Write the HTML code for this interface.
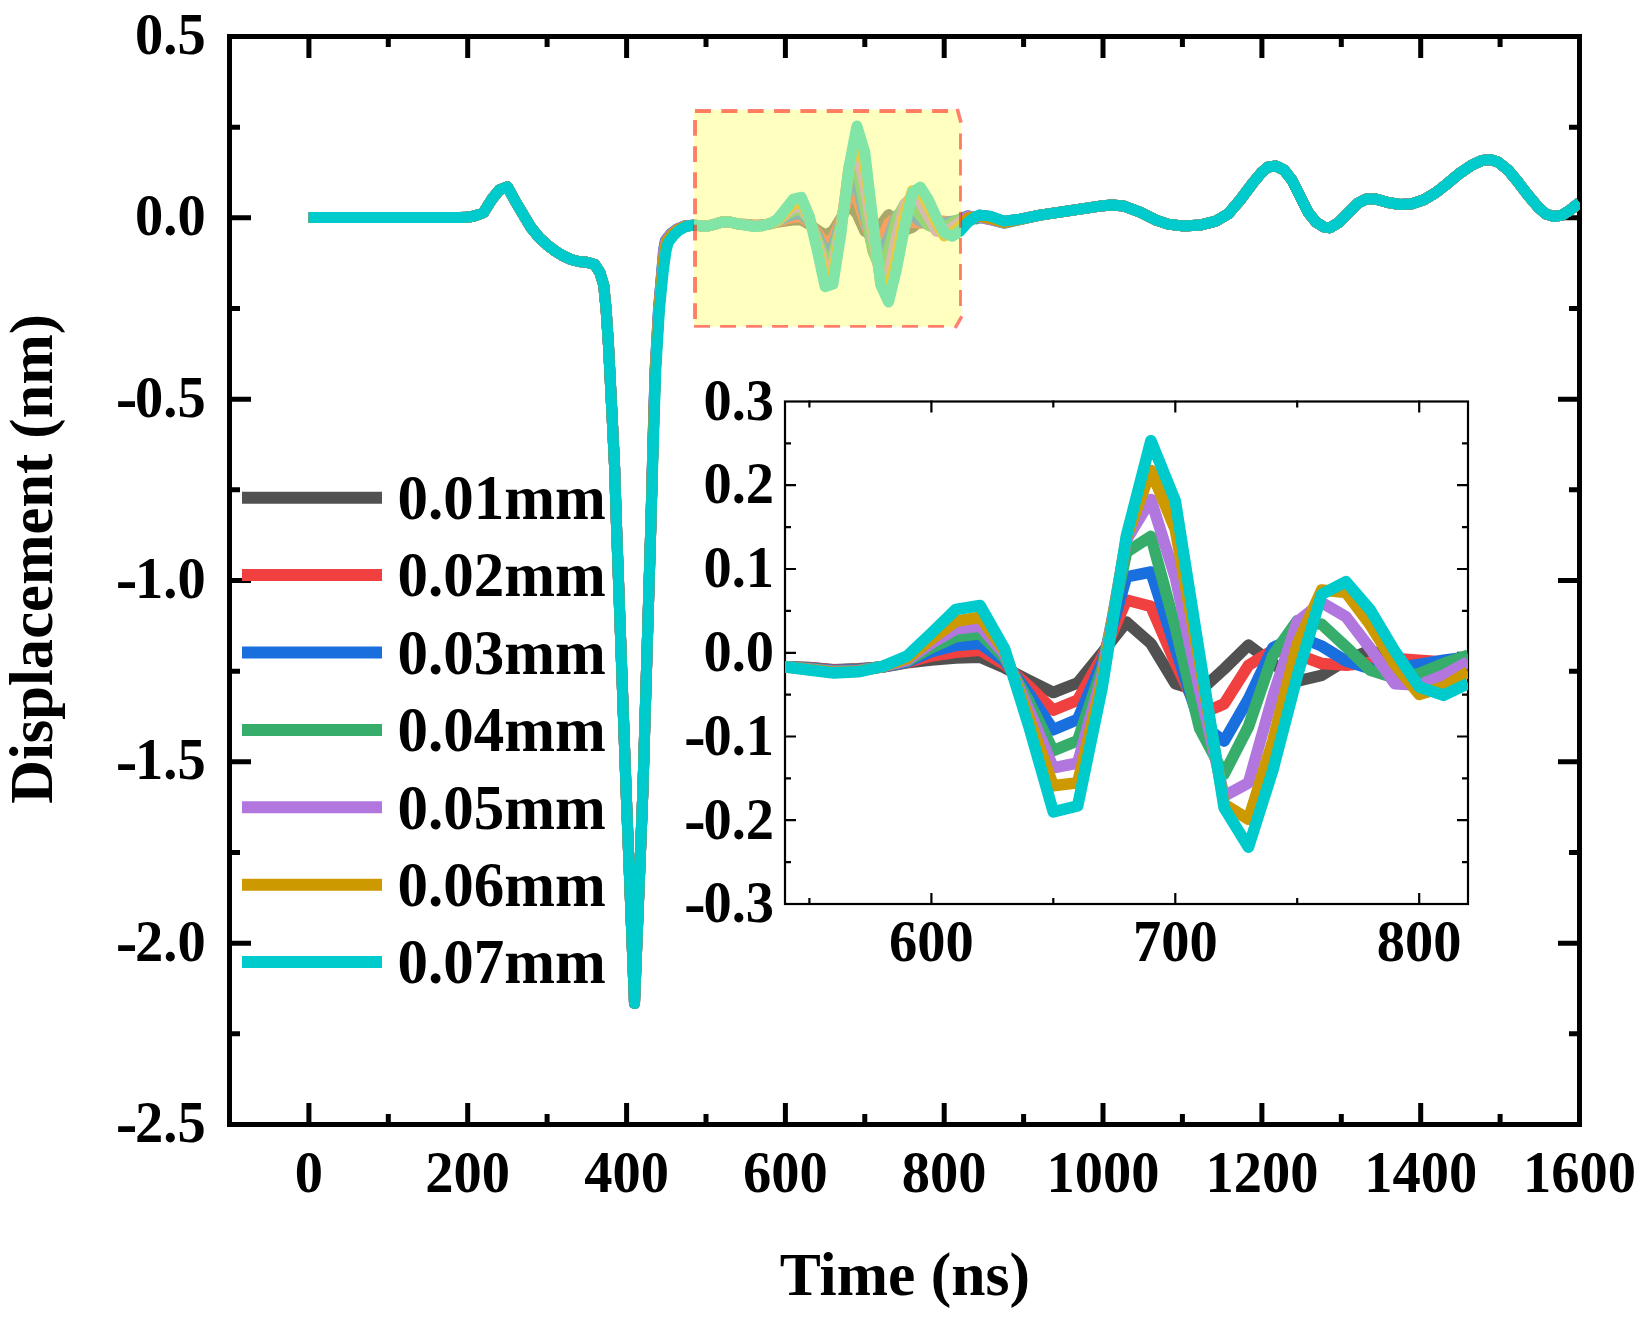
<!DOCTYPE html><html><head><meta charset="utf-8"><title>Displacement vs Time</title>
<style>html,body{margin:0;padding:0;background:#fff}svg{display:block}text{font-family:"Liberation Serif",serif;font-weight:bold;fill:#000}</style></head><body>
<svg width="1648" height="1318" viewBox="0 0 1648 1318">
<rect width="1648" height="1318" fill="#fff"/>
<defs><clipPath id="cm"><rect x="229.5" y="36.5" width="1350" height="1088"/></clipPath><clipPath id="ci"><rect x="785.0" y="401.5" width="683.0" height="502.5"/></clipPath></defs>
<path d="M308.9,34 v24 M308.9,1127 v-24 M388.3,34 v13 M388.3,1127 v-13 M467.7,34 v24 M467.7,1127 v-24 M547.1,34 v13 M547.1,1127 v-13 M626.6,34 v24 M626.6,1127 v-24 M706.0,34 v13 M706.0,1127 v-13 M785.4,34 v24 M785.4,1127 v-24 M864.8,34 v13 M864.8,1127 v-13 M944.2,34 v24 M944.2,1127 v-24 M1023.6,34 v13 M1023.6,1127 v-13 M1103.0,34 v24 M1103.0,1127 v-24 M1182.4,34 v13 M1182.4,1127 v-13 M1261.9,34 v24 M1261.9,1127 v-24 M1341.3,34 v13 M1341.3,1127 v-13 M1420.7,34 v24 M1420.7,1127 v-24 M1500.1,34 v13 M1500.1,1127 v-13 M1579.5,34 v24 M1579.5,1127 v-24 M227,127.2 h13 M1582,127.2 h-13 M227,217.8 h24 M1582,217.8 h-24 M227,308.5 h13 M1582,308.5 h-13 M227,399.2 h24 M1582,399.2 h-24 M227,489.8 h13 M1582,489.8 h-13 M227,580.5 h24 M1582,580.5 h-24 M227,671.2 h13 M1582,671.2 h-13 M227,761.8 h24 M1582,761.8 h-24 M227,852.5 h13 M1582,852.5 h-13 M227,943.2 h24 M1582,943.2 h-24 M227,1033.8 h13 M1582,1033.8 h-13" stroke="#000" stroke-width="5" fill="none"/>
<rect x="229.5" y="36.5" width="1350" height="1088" fill="none" stroke="#000" stroke-width="5"/>
<g clip-path="url(#cm)" fill="none" stroke-width="11" stroke-linejoin="round" stroke-linecap="butt">
<path d="M308.5,217.5 L459.7,217.5 L467.6,217.3 L475.6,215.6 L483.5,212.7 L491.5,199.8 L499.4,189.9 L507.4,186.8 L515.3,201.2 L523.3,214.7 L531.2,227.8 L539.1,237.5 L547.1,244.8 L555.0,250.8 L563.0,255.8 L570.9,259.5 L578.8,261.5 L586.8,262.2 L594.7,264.6 L600.0,272.8 L603.7,285.0 L606.1,309.2 L608.5,345.6 L612.2,418.4 L614.6,467.0 L616.3,520.0 L626.2,793.0 L634.5,1003.5 L642.8,793.0 L651.0,520.0 L653.1,442.5 L655.4,369.8 L659.0,308.9 L662.3,272.3 L664.7,250.2 L666.6,241.5 L671.9,234.6 L677.8,229.6 L685.3,226.1 L693.5,225.2 L698.0,225.6 L706.0,226.4 L713.9,224.5 L721.9,222.0 L729.8,222.0 L737.7,223.9 L745.7,224.3 L753.6,225.2 L761.6,224.8 L769.5,224.0 L777.4,222.2 L785.4,221.0 L793.3,220.1 L801.3,219.7 L809.2,224.4 L817.1,229.8 L825.1,235.1 L833.0,230.9 L841.0,217.8 L848.9,204.6 L856.9,213.8 L864.8,231.3 L872.7,234.5 L880.7,224.9 L888.6,214.6 L896.6,222.4 L904.5,230.2 L912.4,227.6 L920.4,221.1 L928.3,216.7 L936.3,221.5 L944.2,224.4 L952.1,225.1 L960.1,224.4 L968.0,220.7 L976.0,217.8 L980.0,215.1 L990.0,216.4 L1004.0,221.4 L1020.0,219.1 L1040.0,215.1 L1060.0,212.1 L1080.0,209.1 L1100.0,206.1 L1112.0,205.1 L1124.0,206.1 L1140.0,212.1 L1156.0,220.1 L1168.0,224.1 L1184.0,226.1 L1200.0,225.1 L1216.0,221.1 L1228.0,214.1 L1240.0,200.1 L1252.0,184.1 L1262.0,172.1 L1268.0,167.0 L1276.0,166.0 L1284.0,170.0 L1292.0,180.1 L1300.0,196.1 L1308.0,212.1 L1316.0,222.1 L1324.0,227.1 L1330.0,227.7 L1338.0,223.1 L1348.0,213.1 L1358.0,203.1 L1366.0,199.1 L1376.0,199.1 L1388.0,202.5 L1400.0,204.5 L1412.0,203.7 L1424.0,199.7 L1436.0,192.5 L1448.0,183.1 L1460.0,173.1 L1472.0,165.0 L1482.0,160.4 L1490.0,159.6 L1498.0,162.0 L1508.0,170.0 L1518.0,182.1 L1528.0,195.1 L1538.0,207.1 L1546.0,214.1 L1554.0,216.5 L1562.0,215.1 L1570.0,210.1 L1579.5,202.5" stroke="#515151"/>
<path d="M308.5,217.5 L459.7,217.5 L467.6,217.3 L475.6,215.6 L483.5,212.7 L491.5,199.8 L499.4,189.9 L507.4,186.8 L515.3,201.2 L523.3,214.7 L531.2,227.8 L539.1,237.5 L547.1,244.8 L555.0,250.8 L563.0,255.8 L570.9,259.5 L578.8,261.5 L586.8,262.2 L594.7,264.6 L600.0,272.8 L603.7,285.0 L606.1,309.2 L608.5,345.6 L612.2,418.4 L614.6,467.0 L616.3,520.0 L626.2,793.0 L634.5,1003.5 L642.8,793.0 L651.0,520.0 L653.1,442.5 L655.3,369.7 L658.8,308.8 L662.1,272.2 L664.3,249.9 L666.2,241.2 L671.5,234.3 L677.5,229.4 L685.2,226.0 L693.5,225.2 L698.0,225.6 L706.0,226.4 L713.9,224.5 L721.9,222.0 L729.8,222.0 L737.7,223.9 L745.7,224.4 L753.6,225.3 L761.6,225.0 L769.5,224.0 L777.4,222.0 L785.4,219.2 L793.3,217.6 L801.3,216.8 L809.2,222.9 L817.1,232.3 L825.1,242.7 L833.0,238.4 L841.0,219.6 L848.9,195.0 L856.9,197.8 L864.8,222.2 L872.7,244.5 L880.7,240.0 L888.6,223.3 L896.6,216.7 L904.5,218.6 L912.4,222.5 L920.4,223.2 L928.3,222.2 L936.3,220.3 L944.2,221.1 L952.1,221.8 L960.1,222.2 L968.0,219.3 L976.0,217.8 L980.0,215.4 L990.0,216.7 L1004.0,221.6 L1020.0,219.1 L1040.0,215.1 L1060.0,212.1 L1080.0,209.1 L1100.0,206.1 L1112.0,205.1 L1124.0,206.1 L1140.0,212.1 L1156.0,220.1 L1168.0,224.1 L1184.0,226.1 L1200.0,225.1 L1216.0,221.1 L1228.0,214.1 L1240.0,200.1 L1252.0,184.1 L1262.0,172.1 L1268.0,167.0 L1276.0,166.0 L1284.0,170.0 L1292.0,180.1 L1300.0,196.1 L1308.0,212.1 L1316.0,222.1 L1324.0,227.1 L1330.0,227.7 L1338.0,223.1 L1348.0,213.1 L1358.0,203.1 L1366.0,199.1 L1376.0,199.1 L1388.0,202.5 L1400.0,204.5 L1412.0,203.7 L1424.0,199.7 L1436.0,192.5 L1448.0,183.1 L1460.0,173.1 L1472.0,165.0 L1482.0,160.4 L1490.0,159.6 L1498.0,162.0 L1508.0,170.0 L1518.0,182.1 L1528.0,195.1 L1538.0,207.1 L1546.0,214.1 L1554.0,216.5 L1562.0,215.1 L1570.0,210.1 L1579.5,202.5" stroke="#F14040"/>
<path d="M308.5,217.5 L459.7,217.5 L467.6,217.3 L475.6,215.6 L483.5,212.7 L491.5,199.8 L499.4,189.9 L507.4,186.8 L515.3,201.2 L523.3,214.7 L531.2,227.8 L539.1,237.5 L547.1,244.8 L555.0,250.8 L563.0,255.8 L570.9,259.5 L578.8,261.5 L586.8,262.2 L594.7,264.6 L600.0,272.8 L603.7,285.0 L606.1,309.2 L608.5,345.6 L612.2,418.4 L614.6,467.0 L616.3,520.0 L626.2,793.0 L634.5,1003.5 L642.8,793.0 L651.0,520.0 L652.9,442.4 L655.1,369.6 L658.5,308.6 L661.7,271.9 L663.6,249.5 L665.3,240.7 L670.6,233.8 L676.8,229.0 L684.8,225.8 L693.5,225.2 L698.0,225.6 L706.0,226.4 L713.9,224.5 L721.9,222.0 L729.8,222.0 L737.7,223.9 L745.7,224.5 L753.6,225.5 L761.6,225.2 L769.5,223.9 L777.4,221.8 L785.4,217.4 L793.3,214.7 L801.3,213.8 L809.2,221.5 L817.1,235.6 L825.1,251.2 L833.0,246.7 L841.0,221.8 L848.9,185.0 L856.9,182.9 L864.8,215.8 L872.7,248.3 L880.7,256.1 L888.6,237.8 L896.6,215.7 L904.5,210.6 L912.4,214.9 L920.4,221.4 L928.3,224.7 L936.3,224.4 L944.2,222.9 L952.1,221.1 L960.1,219.6 L968.0,217.1 L976.0,218.2 L980.0,216.1 L990.0,217.7 L1004.0,222.1 L1020.0,219.4 L1040.0,215.1 L1060.0,212.1 L1080.0,209.1 L1100.0,206.1 L1112.0,205.1 L1124.0,206.1 L1140.0,212.1 L1156.0,220.1 L1168.0,224.1 L1184.0,226.1 L1200.0,225.1 L1216.0,221.1 L1228.0,214.1 L1240.0,200.1 L1252.0,184.1 L1262.0,172.1 L1268.0,167.0 L1276.0,166.0 L1284.0,170.0 L1292.0,180.1 L1300.0,196.1 L1308.0,212.1 L1316.0,222.1 L1324.0,227.1 L1330.0,227.7 L1338.0,223.1 L1348.0,213.1 L1358.0,203.1 L1366.0,199.1 L1376.0,199.1 L1388.0,202.5 L1400.0,204.5 L1412.0,203.7 L1424.0,199.7 L1436.0,192.5 L1448.0,183.1 L1460.0,173.1 L1472.0,165.0 L1482.0,160.4 L1490.0,159.6 L1498.0,162.0 L1508.0,170.0 L1518.0,182.1 L1528.0,195.1 L1538.0,207.1 L1546.0,214.1 L1554.0,216.5 L1562.0,215.1 L1570.0,210.1 L1579.5,202.5" stroke="#1A6FDF"/>
<path d="M308.5,217.5 L459.7,217.5 L467.6,217.3 L475.6,215.6 L483.5,212.7 L491.5,199.8 L499.4,189.9 L507.4,186.8 L515.3,201.2 L523.3,214.7 L531.2,227.8 L539.1,237.5 L547.1,244.8 L555.0,250.8 L563.0,255.8 L570.9,259.5 L578.8,261.5 L586.8,262.2 L594.7,264.6 L600.0,272.8 L603.7,285.0 L606.1,309.2 L608.5,345.6 L612.2,418.4 L614.6,467.0 L616.3,520.0 L626.2,793.0 L634.5,1003.5 L642.8,793.0 L651.0,520.0 L653.0,442.5 L655.2,369.6 L658.7,308.7 L661.9,272.1 L664.1,249.8 L665.9,241.1 L671.2,234.2 L677.3,229.2 L685.0,225.9 L693.5,225.2 L698.0,225.6 L706.0,226.4 L713.9,224.5 L721.9,222.0 L729.8,222.0 L737.7,223.9 L745.7,224.7 L753.6,225.7 L761.6,225.4 L769.5,223.9 L777.4,221.5 L785.4,215.6 L793.3,210.9 L801.3,209.6 L809.2,220.0 L817.1,238.9 L825.1,260.3 L833.0,255.9 L841.0,224.4 L848.9,174.3 L856.9,167.5 L864.8,206.6 L872.7,250.7 L880.7,270.4 L888.6,249.7 L896.6,218.9 L904.5,204.1 L912.4,205.5 L920.4,215.3 L928.3,225.4 L936.3,228.7 L944.2,226.9 L952.1,222.5 L960.1,218.9 L968.0,215.7 L976.0,218.9 L980.0,217.7 L990.0,219.5 L1004.0,223.3 L1020.0,219.7 L1040.0,215.1 L1060.0,212.1 L1080.0,209.1 L1100.0,206.1 L1112.0,205.1 L1124.0,206.1 L1140.0,212.1 L1156.0,220.1 L1168.0,224.1 L1184.0,226.1 L1200.0,225.1 L1216.0,221.1 L1228.0,214.1 L1240.0,200.1 L1252.0,184.1 L1262.0,172.1 L1268.0,167.0 L1276.0,166.0 L1284.0,170.0 L1292.0,180.1 L1300.0,196.1 L1308.0,212.1 L1316.0,222.1 L1324.0,227.1 L1330.0,227.7 L1338.0,223.1 L1348.0,213.1 L1358.0,203.1 L1366.0,199.1 L1376.0,199.1 L1388.0,202.5 L1400.0,204.5 L1412.0,203.7 L1424.0,199.7 L1436.0,192.5 L1448.0,183.1 L1460.0,173.1 L1472.0,165.0 L1482.0,160.4 L1490.0,159.6 L1498.0,162.0 L1508.0,170.0 L1518.0,182.1 L1528.0,195.1 L1538.0,207.1 L1546.0,214.1 L1554.0,216.5 L1562.0,215.1 L1570.0,210.1 L1579.5,202.5" stroke="#37AD6B"/>
<path d="M308.5,217.5 L459.7,217.5 L467.6,217.3 L475.6,215.6 L483.5,212.7 L491.5,199.8 L499.4,189.9 L507.4,186.8 L515.3,201.2 L523.3,214.7 L531.2,227.8 L539.1,237.5 L547.1,244.8 L555.0,250.8 L563.0,255.8 L570.9,259.5 L578.8,261.5 L586.8,262.2 L594.7,264.6 L600.0,272.8 L603.7,285.0 L606.1,309.2 L608.5,345.6 L612.2,418.4 L614.6,467.0 L616.3,520.0 L626.2,793.0 L634.5,1003.5 L642.8,793.0 L651.0,520.0 L653.0,442.4 L655.2,369.6 L658.6,308.7 L661.8,272.0 L663.8,249.7 L665.6,240.9 L670.9,234.0 L677.1,229.1 L684.9,225.8 L693.5,225.2 L698.0,225.6 L706.0,226.4 L713.9,224.5 L721.9,222.0 L729.8,222.0 L737.7,223.9 L745.7,224.9 L753.6,226.0 L761.6,225.6 L769.5,223.9 L777.4,221.1 L785.4,213.7 L793.3,207.5 L801.3,206.3 L809.2,218.6 L817.1,242.5 L825.1,267.7 L833.0,265.6 L841.0,227.3 L848.9,168.9 L856.9,151.5 L864.8,185.2 L872.7,234.2 L880.7,280.0 L888.6,274.2 L896.6,236.7 L904.5,204.4 L912.4,196.1 L920.4,202.3 L928.3,216.0 L936.3,231.2 L944.2,231.9 L952.1,227.6 L960.1,221.8 L968.0,215.7 L976.0,217.8 L980.0,217.3 L990.0,219.7 L1004.0,222.9 L1020.0,219.5 L1040.0,215.1 L1060.0,212.1 L1080.0,209.1 L1100.0,206.1 L1112.0,205.1 L1124.0,206.1 L1140.0,212.1 L1156.0,220.1 L1168.0,224.1 L1184.0,226.1 L1200.0,225.1 L1216.0,221.1 L1228.0,214.1 L1240.0,200.1 L1252.0,184.1 L1262.0,172.1 L1268.0,167.0 L1276.0,166.0 L1284.0,170.0 L1292.0,180.1 L1300.0,196.1 L1308.0,212.1 L1316.0,222.1 L1324.0,227.1 L1330.0,227.7 L1338.0,223.1 L1348.0,213.1 L1358.0,203.1 L1366.0,199.1 L1376.0,199.1 L1388.0,202.5 L1400.0,204.5 L1412.0,203.7 L1424.0,199.7 L1436.0,192.5 L1448.0,183.1 L1460.0,173.1 L1472.0,165.0 L1482.0,160.4 L1490.0,159.6 L1498.0,162.0 L1508.0,170.0 L1518.0,182.1 L1528.0,195.1 L1538.0,207.1 L1546.0,214.1 L1554.0,216.5 L1562.0,215.1 L1570.0,210.1 L1579.5,202.5" stroke="#B177DE"/>
<path d="M308.5,217.5 L459.7,217.5 L467.6,217.3 L475.6,215.6 L483.5,212.7 L491.5,199.8 L499.4,189.9 L507.4,186.8 L515.3,201.2 L523.3,214.7 L531.2,227.8 L539.1,237.5 L547.1,244.8 L555.0,250.8 L563.0,255.8 L570.9,259.5 L578.8,261.5 L586.8,262.2 L594.7,264.6 L600.0,272.8 L603.7,285.0 L606.1,309.2 L608.5,345.6 L612.2,418.4 L614.6,467.0 L616.3,520.0 L626.2,793.0 L634.5,1003.5 L642.8,793.0 L651.0,520.0 L653.1,442.5 L655.4,369.7 L658.9,308.8 L662.2,272.3 L664.6,250.1 L666.5,241.4 L671.8,234.5 L677.7,229.5 L685.3,226.1 L693.5,225.2 L698.0,225.6 L706.0,226.4 L713.9,224.5 L721.9,222.0 L729.8,222.0 L737.7,223.9 L745.7,225.1 L753.6,226.3 L761.6,225.9 L769.5,223.8 L777.4,220.4 L785.4,211.9 L793.3,204.2 L801.3,202.5 L809.2,217.1 L817.1,246.1 L825.1,275.5 L833.0,274.1 L841.0,229.8 L848.9,167.8 L856.9,138.9 L864.8,164.5 L872.7,222.5 L880.7,283.5 L888.6,290.0 L896.6,255.9 L904.5,214.2 L912.4,190.7 L920.4,191.8 L928.3,205.9 L936.3,222.9 L944.2,235.9 L952.1,232.6 L960.1,226.1 L968.0,217.8 L976.0,216.7 L980.0,216.3 L990.0,218.7 L1004.0,222.5 L1020.0,219.3 L1040.0,215.1 L1060.0,212.1 L1080.0,209.1 L1100.0,206.1 L1112.0,205.1 L1124.0,206.1 L1140.0,212.1 L1156.0,220.1 L1168.0,224.1 L1184.0,226.1 L1200.0,225.1 L1216.0,221.1 L1228.0,214.1 L1240.0,200.1 L1252.0,184.1 L1262.0,172.1 L1268.0,167.0 L1276.0,166.0 L1284.0,170.0 L1292.0,180.1 L1300.0,196.1 L1308.0,212.1 L1316.0,222.1 L1324.0,227.1 L1330.0,227.7 L1338.0,223.1 L1348.0,213.1 L1358.0,203.1 L1366.0,199.1 L1376.0,199.1 L1388.0,202.5 L1400.0,204.5 L1412.0,203.7 L1424.0,199.7 L1436.0,192.5 L1448.0,183.1 L1460.0,173.1 L1472.0,165.0 L1482.0,160.4 L1490.0,159.6 L1498.0,162.0 L1508.0,170.0 L1518.0,182.1 L1528.0,195.1 L1538.0,207.1 L1546.0,214.1 L1554.0,216.5 L1562.0,215.1 L1570.0,210.1 L1579.5,202.5" stroke="#CC9900"/>
<path d="M308.5,217.5 L459.7,217.5 L467.6,217.3 L475.6,215.6 L483.5,212.7 L491.5,199.8 L499.4,189.9 L507.4,186.8 L515.3,201.2 L523.3,214.7 L531.2,227.8 L539.1,237.5 L547.1,244.8 L555.0,250.8 L563.0,255.8 L570.9,259.5 L578.8,261.5 L586.8,262.2 L594.7,264.6 L600.0,272.8 L603.7,285.0 L606.1,309.2 L608.5,345.6 L612.2,418.4 L614.6,467.0 L616.3,520.0 L626.2,793.0 L634.5,1003.5 L642.8,793.0 L651.0,520.0 L653.4,442.7 L655.8,370.0 L659.5,309.2 L663.1,272.8 L666.0,251.0 L668.2,242.5 L673.5,235.6 L679.0,230.3 L686.0,226.5 L693.5,225.2 L698.0,225.6 L706.0,226.4 L713.9,224.5 L721.9,222.0 L729.8,222.0 L737.7,223.9 L745.7,225.3 L753.6,226.5 L761.6,226.1 L769.5,223.7 L777.4,219.3 L785.4,209.3 L793.3,199.1 L801.3,197.4 L809.2,216.0 L817.1,249.7 L825.1,286.7 L833.0,284.1 L841.0,233.1 L848.9,167.1 L856.9,126.0 L864.8,152.1 L872.7,218.9 L880.7,284.9 L888.6,302.0 L896.6,268.6 L904.5,228.0 L912.4,192.5 L920.4,187.1 L928.3,199.4 L936.3,217.1 L944.2,232.6 L952.1,236.3 L960.1,231.2 L968.0,222.2 L976.0,216.4 L980.0,215.1 L990.0,216.1 L1004.0,221.1 L1020.0,219.1 L1040.0,215.1 L1060.0,212.1 L1080.0,209.1 L1100.0,206.1 L1112.0,205.1 L1124.0,206.1 L1140.0,212.1 L1156.0,220.1 L1168.0,224.1 L1184.0,226.1 L1200.0,225.1 L1216.0,221.1 L1228.0,214.1 L1240.0,200.1 L1252.0,184.1 L1262.0,172.1 L1268.0,167.0 L1276.0,166.0 L1284.0,170.0 L1292.0,180.1 L1300.0,196.1 L1308.0,212.1 L1316.0,222.1 L1324.0,227.1 L1330.0,227.7 L1338.0,223.1 L1348.0,213.1 L1358.0,203.1 L1366.0,199.1 L1376.0,199.1 L1388.0,202.5 L1400.0,204.5 L1412.0,203.7 L1424.0,199.7 L1436.0,192.5 L1448.0,183.1 L1460.0,173.1 L1472.0,165.0 L1482.0,160.4 L1490.0,159.6 L1498.0,162.0 L1508.0,170.0 L1518.0,182.1 L1528.0,195.1 L1538.0,207.1 L1546.0,214.1 L1554.0,216.5 L1562.0,215.1 L1570.0,210.1 L1579.5,202.5" stroke="#00CBCC"/>
</g>
<path d="M694.1,109.8 H957.6 L960.9,121.5 V317 L955.6,326.8 H694.1 Z" fill="rgb(255,255,128)" fill-opacity="0.5" stroke="none"/>
<g opacity="0.5" stroke="rgb(255,0,0)" fill="none">
<path d="M695,110.9 H956.5" stroke-width="4" stroke-dasharray="16 10.35"/>
<path d="M957.3,108.9 L961,122.6" stroke-width="3.6"/>
<path d="M960.5,133.5 V306.5" stroke-width="2.9" stroke-dasharray="15.9 10.2"/>
<path d="M961.8,316.4 L955.2,328" stroke-width="3.4"/>
<path d="M694.1,326.4 H954" stroke-width="2.9" stroke-dasharray="15.9 10.1"/>
<path d="M695,120 V322" stroke-width="3.9" stroke-dasharray="15.8 10.37"/>
</g>
<rect x="785.0" y="401.5" width="683.0" height="502.5" fill="#fff"/>
<path d="M809.4,400.5 v7 M809.4,905.0 v-7 M931.4,400.5 v12 M931.4,905.0 v-12 M1053.3,400.5 v7 M1053.3,905.0 v-7 M1175.3,400.5 v12 M1175.3,905.0 v-12 M1297.2,400.5 v7 M1297.2,905.0 v-7 M1419.2,400.5 v12 M1419.2,905.0 v-12 M784.0,443.4 h7 M1469.0,443.4 h-7 M784.0,485.2 h12 M1469.0,485.2 h-12 M784.0,527.1 h7 M1469.0,527.1 h-7 M784.0,569.0 h12 M1469.0,569.0 h-12 M784.0,610.9 h7 M1469.0,610.9 h-7 M784.0,652.8 h12 M1469.0,652.8 h-12 M784.0,694.6 h7 M1469.0,694.6 h-7 M784.0,736.5 h12 M1469.0,736.5 h-12 M784.0,778.4 h7 M1469.0,778.4 h-7 M784.0,820.2 h12 M1469.0,820.2 h-12 M784.0,862.1 h7 M1469.0,862.1 h-7" stroke="#000" stroke-width="2.2" fill="none"/>
<rect x="785.0" y="401.5" width="683.0" height="502.5" fill="none" stroke="#000" stroke-width="2.2"/>
<g clip-path="url(#ci)" fill="none" stroke-width="11.6" stroke-linejoin="round">
<path d="M785.0,666.8 L809.4,667.6 L833.8,669.8 L858.2,668.9 L882.6,667.0 L907.0,662.8 L931.4,660.0 L955.8,658.0 L980.1,657.1 L1004.5,667.8 L1028.9,680.4 L1053.3,692.5 L1077.7,682.9 L1102.1,652.8 L1126.5,622.1 L1150.9,643.5 L1175.3,683.7 L1199.7,691.3 L1224.1,669.0 L1248.5,645.2 L1272.9,663.4 L1297.2,681.2 L1321.6,675.4 L1346.0,660.3 L1370.4,650.2 L1394.8,661.1 L1419.2,667.8 L1443.6,669.5 L1468.0,667.8" stroke="#515151"/>
<path d="M785.0,666.8 L809.4,667.9 L833.8,670.1 L858.2,669.2 L882.6,666.9 L907.0,662.4 L931.4,655.9 L955.8,652.2 L980.1,650.3 L1004.5,664.5 L1028.9,686.2 L1053.3,710.2 L1077.7,700.2 L1102.1,656.9 L1126.5,600.0 L1150.9,606.4 L1175.3,662.8 L1199.7,714.3 L1224.1,703.8 L1248.5,665.4 L1272.9,650.2 L1297.2,654.4 L1321.6,663.5 L1346.0,665.2 L1370.4,662.8 L1394.8,658.5 L1419.2,660.3 L1443.6,662.0 L1468.0,662.8" stroke="#F14040"/>
<path d="M785.0,666.8 L809.4,668.2 L833.8,670.5 L858.2,669.7 L882.6,666.8 L907.0,662.0 L931.4,651.7 L955.8,645.5 L980.1,643.5 L1004.5,661.1 L1028.9,693.8 L1053.3,729.7 L1077.7,719.3 L1102.1,662.0 L1126.5,576.9 L1150.9,572.0 L1175.3,648.1 L1199.7,723.1 L1224.1,741.1 L1248.5,698.9 L1272.9,647.7 L1297.2,636.0 L1321.6,646.0 L1346.0,661.0 L1370.4,668.7 L1394.8,667.8 L1419.2,664.4 L1443.6,660.3 L1468.0,656.9" stroke="#1A6FDF"/>
<path d="M785.0,666.8 L809.4,668.6 L833.8,671.0 L858.2,670.2 L882.6,666.7 L907.0,661.1 L931.4,647.6 L955.8,636.7 L980.1,633.8 L1004.5,657.8 L1028.9,701.3 L1053.3,750.7 L1077.7,740.6 L1102.1,667.8 L1126.5,552.2 L1150.9,536.4 L1175.3,626.8 L1199.7,728.6 L1224.1,774.2 L1248.5,726.5 L1272.9,655.3 L1297.2,620.9 L1321.6,624.3 L1346.0,646.8 L1370.4,670.2 L1394.8,677.9 L1419.2,673.6 L1443.6,663.5 L1468.0,655.2" stroke="#37AD6B"/>
<path d="M785.0,666.8 L809.4,669.0 L833.8,671.6 L858.2,670.8 L882.6,666.7 L907.0,660.3 L931.4,643.3 L955.8,629.0 L980.1,626.0 L1004.5,654.4 L1028.9,709.7 L1053.3,767.9 L1077.7,763.0 L1102.1,674.5 L1126.5,539.7 L1150.9,499.5 L1175.3,577.4 L1199.7,690.4 L1224.1,796.2 L1248.5,782.8 L1272.9,696.3 L1297.2,621.8 L1321.6,602.6 L1346.0,616.8 L1370.4,648.6 L1394.8,683.6 L1419.2,685.2 L1443.6,675.2 L1468.0,661.9" stroke="#B177DE"/>
<path d="M785.0,666.8 L809.4,669.5 L833.8,672.3 L858.2,671.3 L882.6,666.6 L907.0,658.6 L931.4,639.1 L955.8,621.2 L980.1,617.2 L1004.5,651.1 L1028.9,718.1 L1053.3,785.8 L1077.7,782.7 L1102.1,680.4 L1126.5,537.2 L1150.9,470.5 L1175.3,529.6 L1199.7,663.6 L1224.1,804.3 L1248.5,819.3 L1272.9,740.7 L1297.2,644.4 L1321.6,590.1 L1346.0,592.6 L1370.4,625.1 L1394.8,664.4 L1419.2,694.4 L1443.6,686.9 L1468.0,671.9" stroke="#CC9900"/>
<path d="M785.0,666.8 L809.4,669.9 L833.8,672.9 L858.2,671.8 L882.6,666.4 L907.0,656.1 L931.4,633.1 L955.8,609.5 L980.1,605.6 L1004.5,648.6 L1028.9,726.5 L1053.3,811.9 L1077.7,805.8 L1102.1,687.9 L1126.5,535.5 L1150.9,440.7 L1175.3,500.9 L1199.7,655.3 L1224.1,807.7 L1248.5,847.1 L1272.9,770.0 L1297.2,676.2 L1321.6,594.3 L1346.0,581.7 L1370.4,610.1 L1394.8,651.1 L1419.2,686.9 L1443.6,695.3 L1468.0,683.6" stroke="#00CBCC"/>
</g>
<line x1="242" y1="497.7" x2="382" y2="497.7" stroke="#515151" stroke-width="12"/>
<text transform="translate(397.5,518.9) scale(1,1.033)" font-size="61" text-anchor="start">0.01mm</text>
<line x1="242" y1="575.1" x2="382" y2="575.1" stroke="#F14040" stroke-width="12"/>
<text transform="translate(397.5,596.3) scale(1,1.033)" font-size="61" text-anchor="start">0.02mm</text>
<line x1="242" y1="652.5" x2="382" y2="652.5" stroke="#1A6FDF" stroke-width="12"/>
<text transform="translate(397.5,673.7) scale(1,1.033)" font-size="61" text-anchor="start">0.03mm</text>
<line x1="242" y1="729.9" x2="382" y2="729.9" stroke="#37AD6B" stroke-width="12"/>
<text transform="translate(397.5,751.1) scale(1,1.033)" font-size="61" text-anchor="start">0.04mm</text>
<line x1="242" y1="807.3" x2="382" y2="807.3" stroke="#B177DE" stroke-width="12"/>
<text transform="translate(397.5,828.5) scale(1,1.033)" font-size="61" text-anchor="start">0.05mm</text>
<line x1="242" y1="884.7" x2="382" y2="884.7" stroke="#CC9900" stroke-width="12"/>
<text transform="translate(397.5,905.9) scale(1,1.033)" font-size="61" text-anchor="start">0.06mm</text>
<line x1="242" y1="962.1" x2="382" y2="962.1" stroke="#00CBCC" stroke-width="12"/>
<text transform="translate(397.5,983.3) scale(1,1.033)" font-size="61" text-anchor="start">0.07mm</text>
<text transform="translate(205.7,54.1) scale(1,1.033)" font-size="56.5" text-anchor="end">0.5</text>
<text transform="translate(205.7,235.4) scale(1,1.033)" font-size="56.5" text-anchor="end">0.0</text>
<text transform="translate(205.7,416.8) scale(1,1.033)" font-size="56.5" text-anchor="end"><tspan font-size="65.0" dy="3">-</tspan><tspan dx="-2.3" dy="-3">0.5</tspan></text>
<text transform="translate(205.7,598.1) scale(1,1.033)" font-size="56.5" text-anchor="end"><tspan font-size="65.0" dy="3">-</tspan><tspan dx="-2.3" dy="-3">1.0</tspan></text>
<text transform="translate(205.7,779.4) scale(1,1.033)" font-size="56.5" text-anchor="end"><tspan font-size="65.0" dy="3">-</tspan><tspan dx="-2.3" dy="-3">1.5</tspan></text>
<text transform="translate(205.7,960.8) scale(1,1.033)" font-size="56.5" text-anchor="end"><tspan font-size="65.0" dy="3">-</tspan><tspan dx="-2.3" dy="-3">2.0</tspan></text>
<text transform="translate(205.7,1142.1) scale(1,1.033)" font-size="56.5" text-anchor="end"><tspan font-size="65.0" dy="3">-</tspan><tspan dx="-2.3" dy="-3">2.5</tspan></text>
<text transform="translate(308.9,1191.8) scale(1,1.033)" font-size="56.5" text-anchor="middle">0</text>
<text transform="translate(467.7,1191.8) scale(1,1.033)" font-size="56.5" text-anchor="middle">200</text>
<text transform="translate(626.6,1191.8) scale(1,1.033)" font-size="56.5" text-anchor="middle">400</text>
<text transform="translate(785.4,1191.8) scale(1,1.033)" font-size="56.5" text-anchor="middle">600</text>
<text transform="translate(944.2,1191.8) scale(1,1.033)" font-size="56.5" text-anchor="middle">800</text>
<text transform="translate(1103.0,1191.8) scale(1,1.033)" font-size="56.5" text-anchor="middle">1000</text>
<text transform="translate(1261.9,1191.8) scale(1,1.033)" font-size="56.5" text-anchor="middle">1200</text>
<text transform="translate(1420.7,1191.8) scale(1,1.033)" font-size="56.5" text-anchor="middle">1400</text>
<text transform="translate(1579.5,1191.8) scale(1,1.033)" font-size="56.5" text-anchor="middle">1600</text>
<text transform="translate(774.0,419.7) scale(1,1.033)" font-size="56.5" text-anchor="end">0.3</text>
<text transform="translate(774.0,503.4) scale(1,1.033)" font-size="56.5" text-anchor="end">0.2</text>
<text transform="translate(774.0,587.2) scale(1,1.033)" font-size="56.5" text-anchor="end">0.1</text>
<text transform="translate(774.0,671.0) scale(1,1.033)" font-size="56.5" text-anchor="end">0.0</text>
<text transform="translate(774.0,754.7) scale(1,1.033)" font-size="56.5" text-anchor="end"><tspan font-size="65.0" dy="3">-</tspan><tspan dx="-2.3" dy="-3">0.1</tspan></text>
<text transform="translate(774.0,838.5) scale(1,1.033)" font-size="56.5" text-anchor="end"><tspan font-size="65.0" dy="3">-</tspan><tspan dx="-2.3" dy="-3">0.2</tspan></text>
<text transform="translate(774.0,922.2) scale(1,1.033)" font-size="56.5" text-anchor="end"><tspan font-size="65.0" dy="3">-</tspan><tspan dx="-2.3" dy="-3">0.3</tspan></text>
<text transform="translate(931.4,961.3) scale(1,1.033)" font-size="56.5" text-anchor="middle">600</text>
<text transform="translate(1175.3,961.3) scale(1,1.033)" font-size="56.5" text-anchor="middle">700</text>
<text transform="translate(1419.2,961.3) scale(1,1.033)" font-size="56.5" text-anchor="middle">800</text>
<text transform="translate(904.8,1294.6) scale(1,1.006)" font-size="61.6" text-anchor="middle">Time (ns)</text>
<text transform="translate(51.9,559.0) rotate(-90) scale(1,1.015)" font-size="60.6" text-anchor="middle">Displacement (nm)</text>
</svg></body></html>
